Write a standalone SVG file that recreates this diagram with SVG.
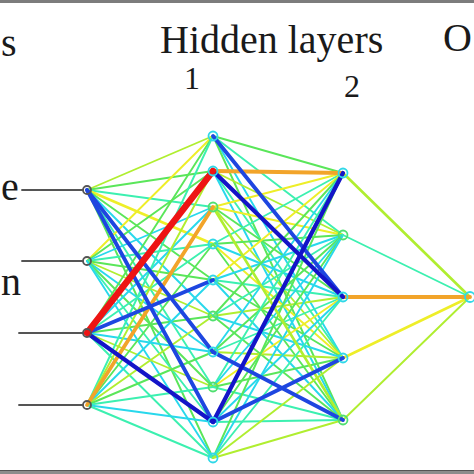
<svg xmlns="http://www.w3.org/2000/svg" width="474" height="474" viewBox="0 0 474 474">
<style>
.lbl{font-family:"Liberation Serif","Times New Roman",serif;fill:#1a1a1a}
.c line{fill:none;stroke-width:1.9;stroke-linecap:round}
.cy{stroke:#28d8ec}
.aq{stroke:#3cf0b0}
.gr{stroke:#5ae65a}
.yg{stroke:#b0ee30}
.ye{stroke:#eeee28}
.red{stroke:#ee1414;stroke-width:6.5!important}
.or{stroke:#f2a42a;stroke-width:3.8!important}
.bl{stroke:#1e46e0;stroke-width:3.8!important}
.db{stroke:#1414c8;stroke-width:4.2!important}
.w{stroke-width:2.6!important}
.inl{stroke:#555;stroke-width:2}
.n circle{fill:none;stroke-width:1.8}
.nin{stroke:#555}
.ncy{stroke:#30d8e8}
.ngr{stroke:#50e070}
</style>
<rect x="0" y="0" width="474" height="474" fill="#fff"/>
<rect x="0" y="0" width="474" height="3" fill="#7c7c7c"/>
<rect x="0" y="470" width="474" height="4" fill="#8c8c8c"/>
<line x1="0" y1="470.5" x2="474" y2="470.5" stroke="#555" stroke-width="1"/>
<g id="labels">
<text class="lbl" x="160" y="53" font-size="40">Hidden layers</text>
<text class="lbl" x="192" y="89" font-size="32" text-anchor="middle">1</text>
<text class="lbl" x="352" y="97" font-size="32" text-anchor="middle">2</text>
<text class="lbl" x="1" y="56" font-size="40">s</text>
<text class="lbl" x="1" y="200" font-size="40">e</text>
<text class="lbl" x="1" y="295" font-size="40">n</text>
<text class="lbl" x="443" y="51" font-size="40">O</text>
</g>
<g id="connectors" class="c">
<line class="inl" x1="22" y1="190" x2="83" y2="190"/>
<line class="inl" x1="22" y1="261" x2="83" y2="261"/>
<line class="inl" x1="19" y1="333" x2="83" y2="333"/>
<line class="inl" x1="19" y1="405" x2="83" y2="405"/>
<!-- input 1 -->
<line class="yg" x1="87" y1="190" x2="213" y2="136"/>
<line class="gr" x1="87" y1="190" x2="213" y2="171"/>
<line class="aq" x1="87" y1="190" x2="213" y2="207"/>
<line class="ye w" x1="87" y1="190" x2="213" y2="244"/>
<line class="gr" x1="87" y1="190" x2="213" y2="280"/>
<line class="cy" x1="87" y1="190" x2="213" y2="316"/>
<line class="aq" x1="87" y1="190" x2="213" y2="387"/>
<line class="gr" x1="87" y1="190" x2="213" y2="458"/>
<!-- input 2 -->
<line class="ye" x1="87" y1="261" x2="213" y2="136"/>
<line class="gr" x1="87" y1="261" x2="213" y2="171"/>
<line class="cy" x1="87" y1="261" x2="213" y2="207"/>
<line class="aq" x1="87" y1="261" x2="213" y2="244"/>
<line class="gr" x1="87" y1="261" x2="213" y2="280"/>
<line class="yg" x1="87" y1="261" x2="213" y2="316"/>
<line class="cy" x1="87" y1="261" x2="213" y2="352"/>
<line class="gr" x1="87" y1="261" x2="213" y2="387"/>
<line class="aq" x1="87" y1="261" x2="213" y2="422"/>
<line class="cy" x1="87" y1="261" x2="213" y2="458"/>
<!-- input 3 -->
<line class="gr" x1="87" y1="333" x2="213" y2="136"/>
<line class="cy" x1="87" y1="333" x2="213" y2="207"/>
<line class="aq" x1="87" y1="333" x2="213" y2="244"/>
<line class="gr" x1="87" y1="333" x2="213" y2="316"/>
<line class="cy" x1="87" y1="333" x2="213" y2="352"/>
<line class="yg" x1="87" y1="333" x2="213" y2="387"/>
<line class="aq" x1="87" y1="333" x2="213" y2="458"/>
<!-- input 4 -->
<line class="aq" x1="87" y1="405" x2="213" y2="136"/>
<line class="yg" x1="87" y1="405" x2="213" y2="171"/>
<line class="gr" x1="87" y1="405" x2="213" y2="244"/>
<line class="cy" x1="87" y1="405" x2="213" y2="280"/>
<line class="yg" x1="87" y1="405" x2="213" y2="316"/>
<line class="gr" x1="87" y1="405" x2="213" y2="352"/>
<line class="aq" x1="87" y1="405" x2="213" y2="387"/>
<line class="cy" x1="87" y1="405" x2="213" y2="422"/>
<line class="aq" x1="87" y1="405" x2="213" y2="458"/>
<!-- hidden1 -> hidden2 thin -->
<line class="gr" x1="213" y1="136" x2="343" y2="173"/>
<line class="aq" x1="213" y1="136" x2="343" y2="235"/>
<line class="cy" x1="213" y1="136" x2="343" y2="358"/>
<line class="gr" x1="213" y1="136" x2="343" y2="420"/>
<line class="yg" x1="213" y1="171" x2="343" y2="235"/>
<line class="aq" x1="213" y1="171" x2="343" y2="358"/>
<line class="cy" x1="213" y1="171" x2="343" y2="420"/>
<line class="ye" x1="213" y1="207" x2="343" y2="173"/>
<line class="ye" x1="213" y1="207" x2="343" y2="235"/>
<line class="gr" x1="213" y1="207" x2="343" y2="297"/>
<line class="yg" x1="213" y1="207" x2="343" y2="358"/>
<line class="aq" x1="213" y1="244" x2="343" y2="173"/>
<line class="gr" x1="213" y1="244" x2="343" y2="235"/>
<line class="cy" x1="213" y1="244" x2="343" y2="297"/>
<line class="ye" x1="213" y1="244" x2="343" y2="358"/>
<line class="gr" x1="213" y1="244" x2="343" y2="420"/>
<line class="ye" x1="213" y1="280" x2="343" y2="173"/>
<line class="cy" x1="213" y1="280" x2="343" y2="235"/>
<line class="aq" x1="213" y1="280" x2="343" y2="297"/>
<line class="gr" x1="213" y1="280" x2="343" y2="358"/>
<line class="cy" x1="213" y1="280" x2="343" y2="420"/>
<line class="gr" x1="213" y1="316" x2="343" y2="173"/>
<line class="aq" x1="213" y1="316" x2="343" y2="235"/>
<line class="yg" x1="213" y1="316" x2="343" y2="297"/>
<line class="cy" x1="213" y1="316" x2="343" y2="358"/>
<line class="gr" x1="213" y1="316" x2="343" y2="420"/>
<line class="cy" x1="213" y1="352" x2="343" y2="173"/>
<line class="gr" x1="213" y1="352" x2="343" y2="235"/>
<line class="aq" x1="213" y1="352" x2="343" y2="297"/>
<line class="yg" x1="213" y1="352" x2="343" y2="358"/>
<line class="aq" x1="213" y1="387" x2="343" y2="173"/>
<line class="cy" x1="213" y1="387" x2="343" y2="235"/>
<line class="ye" x1="213" y1="387" x2="343" y2="297"/>
<line class="gr" x1="213" y1="387" x2="343" y2="358"/>
<line class="aq" x1="213" y1="387" x2="343" y2="420"/>
<line class="gr" x1="213" y1="422" x2="343" y2="235"/>
<line class="cy" x1="213" y1="422" x2="343" y2="297"/>
<line class="aq" x1="213" y1="422" x2="343" y2="420"/>
<line class="gr" x1="213" y1="458" x2="343" y2="173"/>
<line class="cy" x1="213" y1="458" x2="343" y2="235"/>
<line class="aq" x1="213" y1="458" x2="343" y2="297"/>
<line class="yg" x1="213" y1="458" x2="343" y2="358"/>
<line class="yg" x1="213" y1="458" x2="343" y2="420"/>
<!-- hidden2 -> output -->
<line class="yg w" x1="343" y1="173" x2="470" y2="297"/>
<line class="aq" x1="343" y1="235" x2="470" y2="297"/>
<line class="ye w" x1="343" y1="358" x2="470" y2="297"/>
<line class="yg" x1="343" y1="420" x2="470" y2="297"/>
<!-- heavy weights -->
<line class="yg w" x1="213" y1="207" x2="343" y2="420"/>
<line class="or" x1="213" y1="171" x2="343" y2="173"/>
<line class="or" x1="343" y1="297" x2="470" y2="297"/>
<line class="or" x1="87" y1="405" x2="213" y2="207"/>
<line class="bl" x1="213" y1="136" x2="343" y2="297"/>
<line class="bl" x1="213" y1="352" x2="343" y2="420"/>
<line class="bl" x1="213" y1="422" x2="343" y2="358"/>
<line class="bl" x1="87" y1="190" x2="213" y2="352"/>
<line class="bl" x1="87" y1="190" x2="213" y2="422"/>
<line class="bl" x1="87" y1="333" x2="213" y2="280"/>
<line class="db" x1="87" y1="333" x2="213" y2="422"/>
<line class="db" x1="213" y1="171" x2="343" y2="297"/>
<line class="db" x1="213" y1="422" x2="343" y2="173"/>
<line class="red" x1="87" y1="333" x2="213" y2="171"/>
</g>
<g id="input-nodes" class="n">
<circle id="in1" class="nin" cx="87" cy="190" r="4"/>
<circle id="in2" class="nin" cx="87" cy="261" r="4"/>
<circle id="in3" class="nin" cx="87" cy="333" r="4"/>
<circle id="in4" class="nin" cx="87" cy="405" r="4"/>
</g>
<g id="hidden1-nodes" class="n">
<circle id="h1-1" class="ncy" cx="213" cy="136" r="4.5"/>
<circle id="h1-2" class="ncy" cx="213" cy="171" r="4.5"/>
<circle id="h1-3" class="ngr" cx="213" cy="207" r="4.5"/>
<circle id="h1-4" class="ncy" cx="213" cy="244" r="4.5"/>
<circle id="h1-5" class="ncy" cx="213" cy="280" r="4.5"/>
<circle id="h1-6" class="ngr" cx="213" cy="316" r="4.5"/>
<circle id="h1-7" class="ncy" cx="213" cy="352" r="4.5"/>
<circle id="h1-8" class="ngr" cx="213" cy="387" r="4.5"/>
<circle id="h1-9" class="ncy" cx="213" cy="422" r="4.5"/>
<circle id="h1-10" class="ncy" cx="213" cy="458" r="4.5"/>
</g>
<g id="hidden2-nodes" class="n">
<circle id="h2-1" class="ncy" cx="343" cy="173" r="4.5"/>
<circle id="h2-2" class="ngr" cx="343" cy="235" r="4.5"/>
<circle id="h2-3" class="ncy" cx="343" cy="297" r="4.5"/>
<circle id="h2-4" class="ncy" cx="343" cy="358" r="4.5"/>
<circle id="h2-5" class="ngr" cx="343" cy="420" r="4.5"/>
</g>
<g id="output-node" class="n">
<circle id="out" class="ncy" cx="470" cy="297" r="5"/>
</g>
</svg>
